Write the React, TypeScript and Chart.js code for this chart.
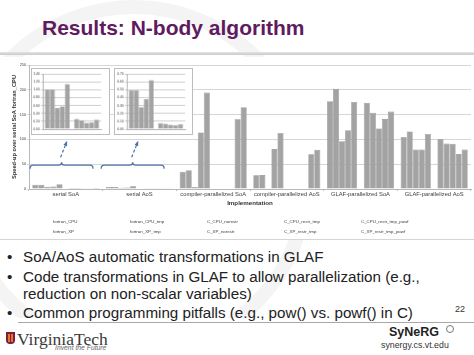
import React, { useEffect, useRef } from 'react';
import { Chart, registerables } from 'chart.js';

Chart.register(...registerables);

// ---------- data ----------
const groups = [
  'serial SoA',
  'serial AoS',
  'compiler-parallelized SoA',
  'compiler-parallelized AoS',
  'GLAF-parallelized SoA',
  'GLAF-parallelized AoS',
];
const seriesNames = [
  'fortran_CPU',
  'fortran_CPU_tmp',
  'C_CPU_norestr',
  'C_CPU_restr_tmp',
  'C_CPU_restr_tmp_powf',
  'fortran_XP',
  'fortran_XP_tmp',
  'C_XP_norestr',
  'C_XP_restr_tmp',
  'C_XP_restr_tmp_powf',
];
const yTickValues = [0, 50, 100, 150, 200, 250];

// main chart values (speed-up), one value per group
const fortranCPU = [8.5, 4.2, 35, 27.5, 177, 105];
const fortranCPUtmp = [8.5, 4.2, 38, 28, 202, 116];
const cCPUnorestr = [4.6, 2.4, 4, 0.5, 96.5, 79.5];
const cCPUrestrTmp = [4.9, 3.2, 114, 80.5, 118.5, 79.5];
const cCPUrestrTmpPowf = [9.8, 5.3, 194.5, 113, 175.5, 111];
const fortranXP = [2.2, 0.65, 0, 0, 174, 101];
const fortranXPtmp = [2.0, 0.58, 0, 0, 153.5, 91.5];
const cXPnorestr = [1.4, 0.48, 0, 0, 122, 91];
const cXPrestrTmp = [1.4, 0.44, 140.5, 70, 141, 70.5];
const cXPrestrTmpPowf = [2.0, 0.54, 165, 79, 156, 79.5];

// inset charts (serial versions, zoomed)
const platforms = ['CPU', 'XP'];
const insetSoACPU = [1.0, 1.0, 0.54, 0.58, 1.14];
const insetSoAXP = [0.26, 0.23, 0.16, 0.17, 0.24];
const insetAoSCPU = [0.49, 0.49, 0.28, 0.38, 0.62];
const insetAoSXP = [0.076, 0.068, 0.056, 0.052, 0.064];
const insetSoAMax = 1.4;
const insetSoAStep = 0.2;
const insetAoSMax = 0.7;
const insetAoSStep = 0.1;

const bulletLines = [
  'SoA/AoS automatic transformations in GLAF',
  'Code transformations in GLAF to allow parallelization (e.g.,',
  'reduction on non-scalar variables)',
  'Common programming pitfalls (e.g., pow() vs. powf() in C)',
];

// ---------- styles ----------
const SANS = "'Liberation Sans', Arial, sans-serif";
const BAR_FILL = '#a3a3a3';
const BAR_EDGE = '#8c8c8c';
const TEXT = '#404040';
const BLUE = '#4f71a8';

const mainSeries = [
  fortranCPU, fortranCPUtmp, cCPUnorestr, cCPUrestrTmp, cCPUrestrTmpPowf,
  fortranXP, fortranXPtmp, cXPnorestr, cXPrestrTmp, cXPrestrTmpPowf,
];
const subLabels = groups.flatMap((g) => [g + ' CPU', g + ' XP']);

function spread(values: number[], isXP: boolean) {
  const out: (number | null)[] = [];
  values.forEach((v) => {
    if (isXP) out.push(null, v);
    else out.push(v, null);
  });
  return out;
}

const legendPlugin = {
  id: 'gridLegend',
  afterDraw(chart: any) {
    const ctx = chart.ctx;
    ctx.save();
    ctx.font = `4.4px ${SANS}`;
    ctx.fillStyle = TEXT;
    ctx.textBaseline = 'middle';
    ctx.textAlign = 'left';
    chart.data.datasets.forEach((ds: any, i: number) => {
      const col = i % 5;
      const row = Math.floor(i / 5);
      ctx.fillText(ds.label, 53 + col * 77, chart.chartArea.bottom + 33 + row * 10);
    });
    ctx.restore();
  },
};

const bracePlugin = {
  id: 'braces',
  afterDatasetsDraw(chart: any) {
    const xs = chart.scales.xs;
    const y = chart.scales.y;
    const ctx = chart.ctx;
    const spans = [
      [-0.47, 1.24],
      [1.46, 3.17],
    ];
    const yb = y.getPixelForValue(48);
    spans.forEach(([a, b]) => {
      const x0 = xs.getPixelForValue(a);
      const x1 = xs.getPixelForValue(b);
      const cx = (x0 + x1) / 2;
      ctx.save();
      ctx.strokeStyle = BLUE;
      ctx.fillStyle = BLUE;
      ctx.lineWidth = 1.2;
      ctx.beginPath();
      ctx.moveTo(x0, yb + 3.5);
      ctx.quadraticCurveTo(x0, yb, x0 + 3, yb);
      ctx.lineTo(cx - 3, yb);
      ctx.quadraticCurveTo(cx, yb, cx, yb - 3);
      ctx.quadraticCurveTo(cx, yb, cx + 3, yb);
      ctx.lineTo(x1 - 3, yb);
      ctx.quadraticCurveTo(x1, yb, x1, yb + 3.5);
      ctx.stroke();
      const ax0 = cx - 1;
      const ay0 = yb - 8;
      const ax1 = cx + 5;
      const ay1 = yb - 23;
      ctx.setLineDash([3, 2]);
      ctx.beginPath();
      ctx.moveTo(ax0, ay0);
      ctx.lineTo(ax1, ay1);
      ctx.stroke();
      ctx.setLineDash([]);
      const ang = Math.atan2(ay1 - ay0, ax1 - ax0);
      const hl = 4;
      ctx.beginPath();
      ctx.moveTo(ax1 + Math.cos(ang) * 1.5, ay1 + Math.sin(ang) * 1.5);
      ctx.lineTo(ax1 - hl * Math.cos(ang - 0.5), ay1 - hl * Math.sin(ang - 0.5));
      ctx.lineTo(ax1 - hl * Math.cos(ang + 0.5), ay1 - hl * Math.sin(ang + 0.5));
      ctx.closePath();
      ctx.fill();
      ctx.restore();
    });
  },
};

function mainConfig(): any {
  return {
    type: 'bar',
    data: {
      labels: subLabels,
      datasets: seriesNames.map((name, i) => ({
        label: name,
        data: spread(mainSeries[i], i >= 5),
        xAxisID: 'xs',
        yAxisID: 'y',
        backgroundColor: BAR_FILL,
        borderColor: BAR_EDGE,
        borderWidth: 0.6,
        skipNull: true,
        categoryPercentage: 0.82,
        barPercentage: 1,
      })),
    },
    options: {
      animation: false,
      responsive: false,
      events: [],
      layout: { padding: { top: 8, right: 3, bottom: 32, left: 0 } },
      plugins: { legend: { display: false }, tooltip: { enabled: false } },
      scales: {
        xs: {
          type: 'category',
          labels: subLabels,
          display: false,
          offset: true,
        },
        x: {
          type: 'category',
          labels: groups,
          position: 'bottom',
          offset: true,
          grid: { display: true, drawOnChartArea: false, tickLength: 2, color: '#bcbcbc', offset: true },
          border: { color: '#b8b8b8' },
          ticks: { font: { family: SANS, size: 5.8 }, color: TEXT, padding: 0, autoSkip: false, maxRotation: 0 },
          title: {
            display: true,
            text: 'Implementation',
            font: { family: SANS, size: 6.2, weight: 'bold' },
            color: '#333',
            padding: 0,
          },
          afterFit: (s: any) => {
            s.height = 18;
          },
        },
        y: {
          min: 0,
          max: 250,
          afterBuildTicks: (s: any) => {
            s.ticks = yTickValues.map((v) => ({ value: v }));
          },
          ticks: { font: { family: SANS, size: 3.8 }, color: TEXT, padding: 1 },
          grid: { color: '#d6d6d6', tickLength: 2 },
          border: { color: '#b8b8b8' },
          title: {
            display: true,
            text: 'Speed-up over serial SoA fortran_CPU',
            font: { family: SANS, size: 5.7, weight: 'bold' },
            color: '#333',
            padding: { top: 11, bottom: 0 },
          },
          afterFit: (s: any) => {
            s.width = 29;
          },
        },
      },
    },
    plugins: [legendPlugin, bracePlugin],
  };
}

function insetConfig(cpu: number[], xp: number[], max: number, step: number, axisW: number, padR: number): any {
  const tickVals: number[] = [];
  for (let k = 0; k <= Math.round(max / step); k++) tickVals.push(+(k * step).toFixed(2));
  return {
    type: 'bar',
    data: {
      labels: platforms,
      datasets: seriesNames.map((name, i) => ({
        label: name,
        data: i < 5 ? [cpu[i], null] : [null, xp[i - 5]],
        backgroundColor: BAR_FILL,
        borderColor: BAR_EDGE,
        borderWidth: 0.5,
        skipNull: true,
        categoryPercentage: 0.85,
        barPercentage: 1,
      })),
    },
    options: {
      animation: false,
      responsive: false,
      events: [],
      layout: { padding: { top: 5, right: padR, bottom: 5, left: 0 } },
      plugins: { legend: { display: false }, tooltip: { enabled: false } },
      scales: {
        x: {
          ticks: { display: false },
          grid: { display: false },
          border: { color: '#b0b0b0' },
          afterFit: (s: any) => {
            s.height = 0;
          },
        },
        y: {
          min: 0,
          max,
          afterBuildTicks: (s: any) => {
            s.ticks = tickVals.map((v) => ({ value: v }));
          },
          ticks: {
            font: { family: SANS, size: 3.5 },
            color: TEXT,
            padding: 1,
            callback: (v: any) => Number(v).toFixed(2),
          },
          grid: { color: '#cfcfcf', tickLength: 2 },
          border: { color: '#b0b0b0' },
          afterFit: (s: any) => {
            s.width = axisW;
          },
        },
      },
    },
  };
}

export default function App() {
  const mainRef = useRef<HTMLCanvasElement>(null);
  const in1Ref = useRef<HTMLCanvasElement>(null);
  const in2Ref = useRef<HTMLCanvasElement>(null);

  useEffect(() => {
    const charts = [
      new Chart(mainRef.current as HTMLCanvasElement, mainConfig()),
      new Chart(in1Ref.current as HTMLCanvasElement, insetConfig(insetSoACPU, insetSoAXP, insetSoAMax, insetSoAStep, 11, 8)),
      new Chart(in2Ref.current as HTMLCanvasElement, insetConfig(insetAoSCPU, insetAoSXP, insetAoSMax, insetAoSStep, 12, 7)),
    ];
    return () => charts.forEach((c) => c.destroy());
  }, []);

  const abs = (o: any) => ({ position: 'absolute' as const, ...o });

  return (
    <div
      style={{
        position: 'fixed',
        left: 0,
        top: 0,
        width: 474,
        height: 355,
        background: '#fff',
        overflow: 'hidden',
        fontFamily: SANS,
      }}
    >
      {/* faint background arc, clipped above the footer */}
      <div style={abs({ left: 0, top: 0, width: 474, height: 318, overflow: 'hidden' })}>
        <div
          style={abs({
            left: -46,
            top: 0,
            width: 360,
            height: 360,
            borderRadius: '50%',
            border: '14px solid #f4f4f4',
            boxSizing: 'border-box',
          })}
        />
      </div>
      {/* separator under title */}
      <div style={abs({ left: 0, top: 52, width: 474, height: 3, background: 'linear-gradient(#e4e4e4, #c9c9c9)' })} />
      <div
        style={abs({
          left: 42,
          top: 17,
          fontSize: 21,
          lineHeight: '21px',
          fontWeight: 'bold',
          color: '#5f1a60',
          whiteSpace: 'nowrap',
        })}
      >
        Results: N-body algorithm
      </div>

      {/* chart */}
      <div style={abs({ left: 0, top: 57, width: 474, height: 182, background: '#fff', borderBottom: '1px solid #d5d5d5' })}>
        <canvas ref={mainRef} width={474} height={182} style={{ display: 'block' }} />
      </div>
      <canvas
        ref={in1Ref}
        width={79}
        height={67}
        style={abs({ left: 31, top: 68, border: '1px solid #bdbdbd', background: '#fff', display: 'block' })}
      />
      <canvas
        ref={in2Ref}
        width={79}
        height={67}
        style={abs({ left: 114, top: 68, border: '1px solid #bdbdbd', background: '#fff', display: 'block' })}
      />

      {/* bullets */}
      {[
        { t: bulletLines[0], top: 248, b: true },
        { t: bulletLines[1], top: 268, b: true },
        { t: bulletLines[2], top: 285, b: false },
        { t: bulletLines[3], top: 304, b: true },
      ].map((l, i) => (
        <React.Fragment key={i}>
          {l.b && (
            <div style={abs({ left: 7, top: l.top, fontSize: 15.2, lineHeight: '18px', color: '#222' })}>•</div>
          )}
          <div
            style={abs({ left: 23, top: l.top, fontSize: 15.2, lineHeight: '18px', color: '#222', whiteSpace: 'nowrap' })}
          >
            {l.t}
          </div>
        </React.Fragment>
      ))}
      <div style={abs({ left: 455, top: 303, fontSize: 9, lineHeight: '12px', color: '#333' })}>22</div>

      {/* footer */}
      <div style={abs({ left: 18, top: 322, width: 456, height: 1, background: '#a8a8a8' })} />
      <div style={abs({ left: 6, top: 332, width: 9, height: 12, background: '#7b1f3c', borderRadius: '0 0 4px 4px' })} />
      <div style={abs({ left: 8, top: 334, width: 2, height: 8, background: '#e5782a' })} />
      <div style={abs({ left: 11, top: 334, width: 2, height: 8, background: '#e5782a' })} />
      <div
        style={abs({
          left: 17,
          top: 329,
          fontSize: 17.5,
          lineHeight: '20px',
          fontFamily: "'Liberation Serif', serif",
          color: '#3a3a3a',
          whiteSpace: 'nowrap',
        })}
      >
        VirginiaTech
      </div>
      <div
        style={abs({
          left: 55,
          top: 344,
          fontSize: 6.8,
          lineHeight: '8px',
          fontStyle: 'italic',
          color: '#666',
          whiteSpace: 'nowrap',
        })}
      >
        Invent the Future
      </div>
      <div
        style={abs({
          left: 389,
          top: 325,
          fontSize: 12.5,
          lineHeight: '14px',
          fontWeight: 'bold',
          color: '#222',
          whiteSpace: 'nowrap',
        })}
      >
        SyNeRG
      </div>
      <div
        style={abs({
          left: 446,
          top: 325,
          width: 6,
          height: 6,
          borderRadius: '50%',
          border: '1px solid #777',
        })}
      />
      <div
        style={abs({
          left: 381,
          top: 340,
          fontSize: 8.8,
          lineHeight: '10px',
          color: '#333',
          whiteSpace: 'nowrap',
        })}
      >
        synergy.cs.vt.edu
      </div>
    </div>
  );
}
